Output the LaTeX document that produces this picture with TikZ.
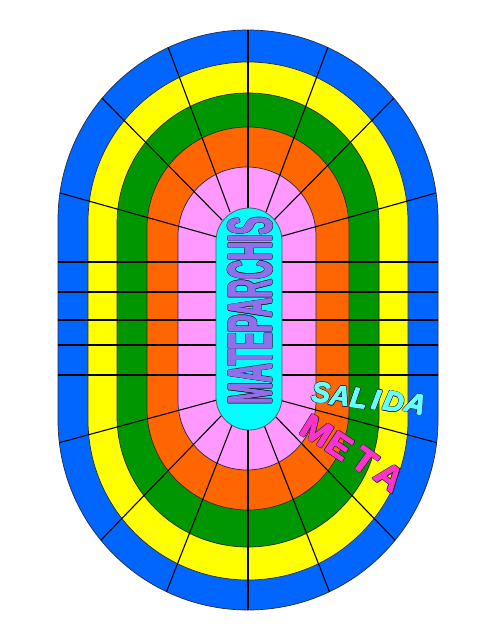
\documentclass[tikz,border=0pt]{standalone}
\usepackage{fontspec}
\setmainfont{Liberation Sans}
\usetikzlibrary{calc}
\definecolor{cblue}{RGB}{0,102,255}
\definecolor{cyellow}{RGB}{255,255,0}
\definecolor{cgreen}{RGB}{0,150,0}
\definecolor{corange}{RGB}{255,102,0}
\definecolor{cpink}{RGB}{255,153,255}
\definecolor{ccyan}{RGB}{0,255,255}
\definecolor{cpurple}{RGB}{145,110,235}
\definecolor{csalida}{RGB}{102,255,255}
\definecolor{cmeta}{RGB}{255,51,204}
\definecolor{cedge}{RGB}{40,40,60}
\tikzset{
  ring/.style={draw=cedge, line width=0.7bp},
  spoke/.style={draw=black, line width=1.1bp},
  letter/.style={inner sep=0pt, outer sep=0pt}
}
% #1 name, #2 position, #3 rotation, #4 colour, #5 text, #6 outline radius
\newcommand\outlinetext[6]{%
  \foreach \ang in {0,30,...,330}{\node[letter, text=cedge, rotate=#3] at ($(#2)+(\ang:#6)$) {#5};}
  \foreach \ang in {0,90,180,270}{\node[letter, text=#4, rotate=#3] at ($(#2)+(\ang:0.35bp)$) {#5};}
  \node[letter, text=#4, rotate=#3] (#1) at (#2) {#5};
}
\newcommand\salfont{\fontsize{28bp}{28bp}\selectfont\bfseries\itshape}
\newcommand\metafont{\fontsize{34bp}{34bp}\selectfont\bfseries}
\begin{document}
\begin{tikzpicture}[x=1bp,y=-1bp]
\useasboundingbox (0,0) rectangle (496,639);
\fill[white] (0,0) rectangle (496,639);
% rings
\filldraw[ring, fill=cblue, rounded corners=190bp] (58,30) rectangle (438,610);
\filldraw[ring, fill=cyellow, rounded corners=160bp] (88,62) rectangle (408,580);
\filldraw[ring, fill=cgreen, rounded corners=131bp] (117,93) rectangle (379,547);
\filldraw[ring, fill=corange, rounded corners=101bp] (147,127) rectangle (349,510);
\filldraw[ring, fill=cpink, rounded corners=69bp] (178,167) rectangle (316,470);
% spokes
\begin{scope}
\clip[rounded corners=190bp] (58,30) rectangle (438,610);
\foreach \ox/\oy/\ix/\iy in {
  248/30/248/230, 168/47/230/212, 102/98/222/220, 60/193/217/237,
  328/47/266/212, 394/98/274/220, 436/193/279/237,
  248/610/248/410, 168/588/232/425, 103/538/222/415, 58/443/217/400,
  328/588/264/425, 393/538/274/415, 438/443/279/400}
  \draw[spoke] (\ix,\iy) -- ($(\ix,\iy)!1.15!(\ox,\oy)$);
\foreach \yy in {262,292,320,345,375}
  \draw[spoke] (50,\yy) -- (446,\yy);
\end{scope}
% centre
\filldraw[draw=black!65, line width=0.8bp, fill=ccyan, rounded corners=33bp] (216,208) rectangle (282,430);
\outlinetext{title}{250,311}{90}{cpurple}{\resizebox{187bp}{44bp}{\bfseries MATEPARCHIS}}{0.9bp}
% SALIDA
\foreach \L/\px/\py/\r [count=\i] in {S/321/393/-4, A/340/396/-6, L/359/398.5/-8, I/376/400/-10, D/394/402/-12, A/416/404/-14}
  {\outlinetext{sal\i}{\px,\py}{\r}{csalida}{\salfont\L}{1bp}}
% META
\foreach \L/\px/\py/\r [count=\i] in {M/317/431/-32, E/340/446/-34, T/365/461/-36, A/390/477/-38}
  {\outlinetext{meta\i}{\px,\py}{\r}{cmeta}{\metafont\scalebox{1.05}[1]{\L}}{1bp}}
\end{tikzpicture}
\end{document}
